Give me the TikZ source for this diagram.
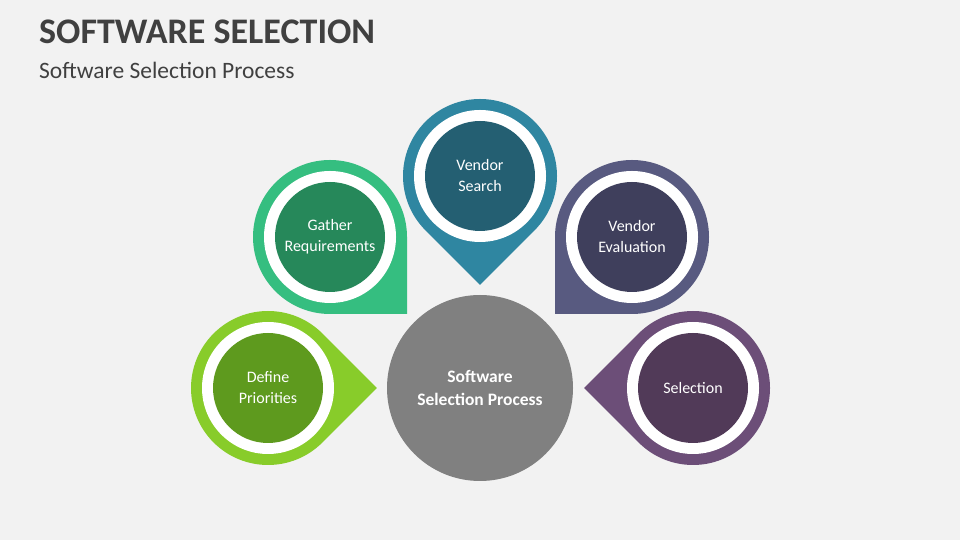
\documentclass[tikz,border=0pt]{standalone}
\usepackage{fontspec}
\setmainfont{Carlito}
\definecolor{bg}{HTML}{F2F2F2}
\definecolor{titlec}{HTML}{404040}
\definecolor{dpO}{HTML}{88CC2A}\definecolor{dpI}{HTML}{5E9A1E}
\definecolor{grO}{HTML}{35BE80}\definecolor{grI}{HTML}{26885A}
\definecolor{vsO}{HTML}{2F86A1}\definecolor{vsI}{HTML}{245F72}
\definecolor{veO}{HTML}{585A80}\definecolor{veI}{HTML}{3F3F5C}
\definecolor{seO}{HTML}{6C4E78}\definecolor{seI}{HTML}{513A58}
\definecolor{centc}{HTML}{808080}
\tikzset{
  ring/.style={circle, fill=white, minimum size=132pt, inner sep=0pt},
  core/.style={circle, minimum size=110pt, inner sep=0pt, text=white, align=center,
    font=\fontsize{16}{21}\selectfont},
}
\newcommand{\drop}[4]{% center, angle, colour, radius
  \fill[#3] ($(#1)+(#2:{#4*1.4142})$) -- ($(#1)+({#2+45}:#4)$)
    arc[start angle={#2+45}, end angle={#2+315}, radius=#4] -- cycle;}
\usetikzlibrary{calc}
\begin{document}
\begin{tikzpicture}[x=1pt,y=1pt]
\fill[bg] (0,0) rectangle (960,540);
\useasboundingbox (0,0) rectangle (960,540);
\node[anchor=base west, inner sep=0pt, text=titlec, font=\fontsize{36}{40}\selectfont\bfseries] (title) at (39,496) {SOFTWARE SELECTION};
\node[anchor=base west, inner sep=0pt, text=titlec, font=\fontsize{23.5}{26}\selectfont] (sub) at (39,461) {Software Selection Process};

\coordinate (cdp) at (268,152);
\coordinate (cgr) at (330,303);
\coordinate (cvs) at (480,364);
\coordinate (cve) at (632,303);
\coordinate (cse) at (693,152);

\drop{cdp}{0}{dpO}{77}
\drop{cgr}{-45}{grO}{77}
\drop{cvs}{-90}{vsO}{77}
\drop{cve}{-135}{veO}{77}
\drop{cse}{180}{seO}{77}

\foreach \c/\n in {cdp/rdp,cgr/rgr,cvs/rvs,cve/rve,cse/rse}
  \node[ring] (\n) at (\c) {};

\node[core, fill=dpI] (dp) at (cdp) {Define\\Priorities};
\node[core, fill=grI] (gr) at (cgr) {Gather\\Requirements};
\node[core, fill=vsI] (vs) at (cvs) {Vendor\\Search};
\node[core, fill=veI] (ve) at (cve) {Vendor\\Evaluation};
\node[core, fill=seI] (se) at (cse) {Selection};

\node[circle, fill=centc, minimum size=186pt, inner sep=0pt, text=white, align=center,
  font=\fontsize{17.5}{23}\selectfont\bfseries] (center) at (480,152) {Software\\Selection Process};
\end{tikzpicture}
\end{document}
